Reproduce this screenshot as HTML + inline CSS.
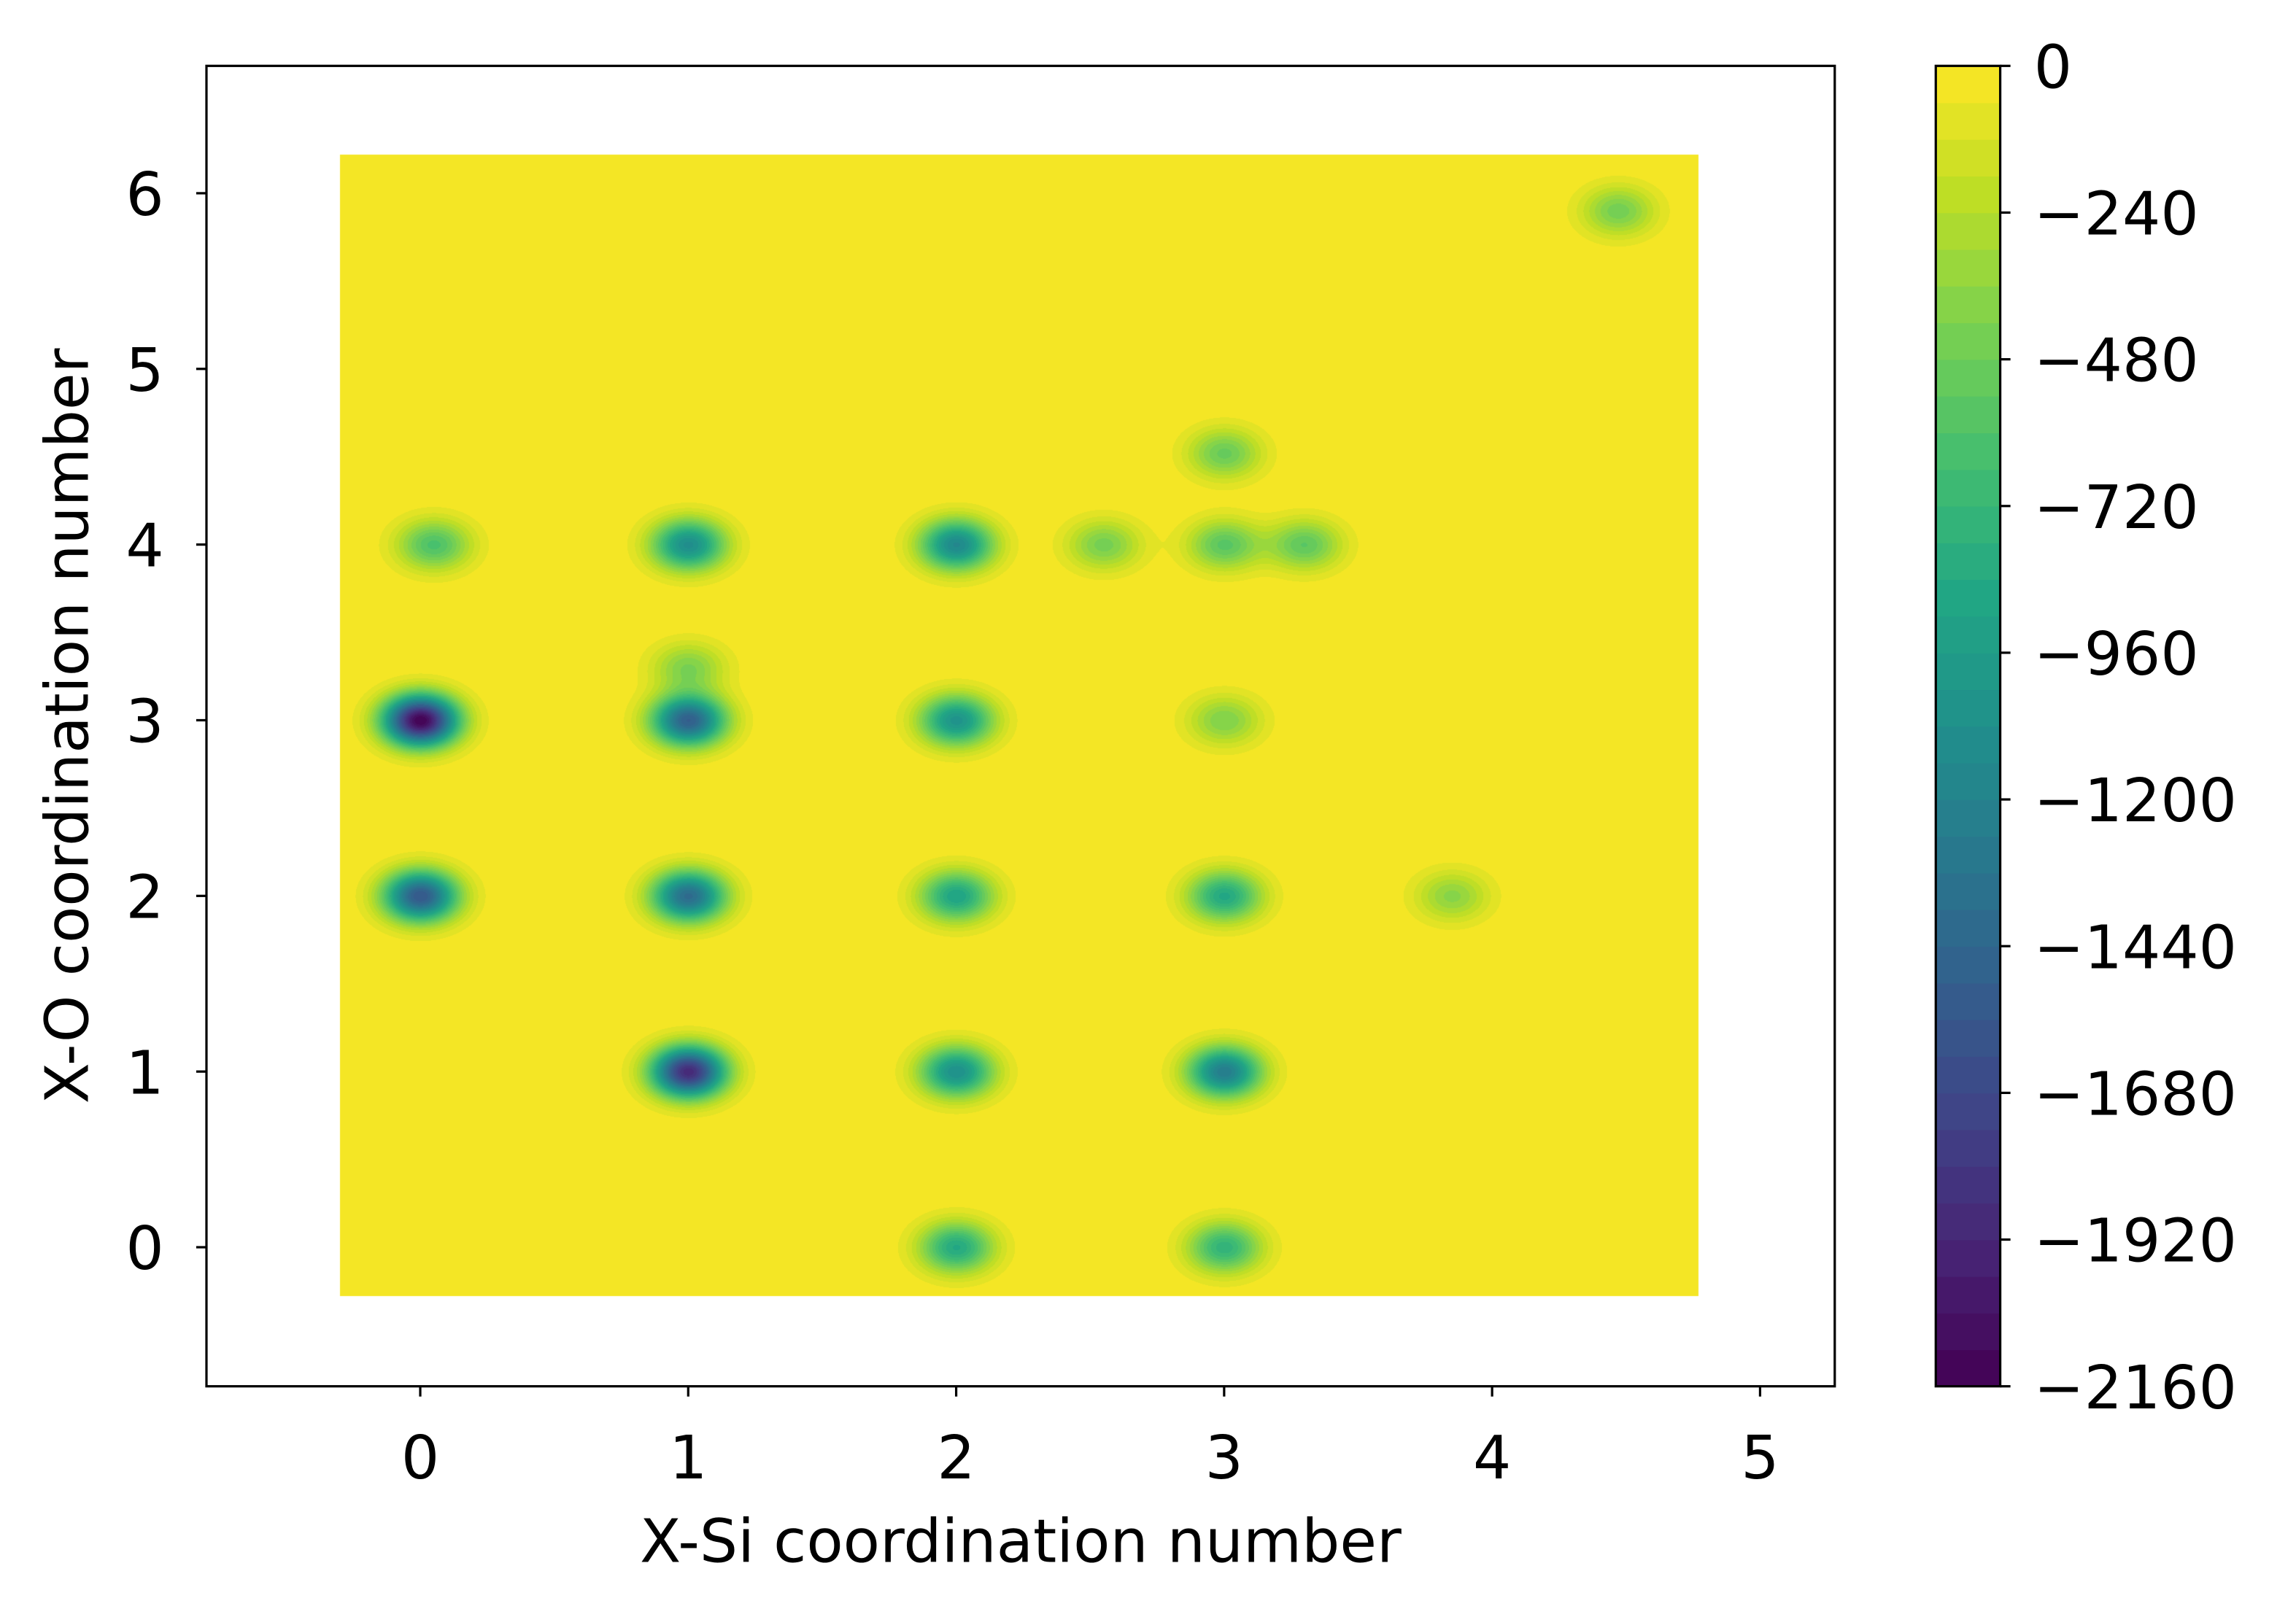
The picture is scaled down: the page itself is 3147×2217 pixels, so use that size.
<!DOCTYPE html>
<html><head><meta charset="utf-8"><style>
html,body{margin:0;padding:0;background:#fff;}
#wrap{position:relative;width:3147px;height:2217px;overflow:hidden;}
svg,canvas{position:absolute;left:0;top:0;}
text{font-family:"DejaVu Sans","Liberation Sans",sans-serif;fill:#000;}
</style></head><body>
<div id="wrap">
<canvas id="cv" width="3147" height="2217"></canvas>
<svg id="sv" width="3147" height="2217" viewBox="0 0 1568 1104.6" preserveAspectRatio="none"></svg>
</div>
<script>
// ---- data ----
const blobX = [0, 0, 0.05, 1, 1, 1, 1, 1, 2, 2, 2, 2, 2, 2.55, 3, 3, 3.3, 3, 3, 3, 3, 3.85, 4.47];
const blobY = [3, 2, 4, 4, 3, 3.3, 2, 1, 4, 3, 2, 1, 0, 4, 4.52, 4, 4, 3, 2, 1, 0, 2, 5.9];
const blobDepth = [2160, 1560, 620, 1100, 1500, 420, 1400, 1900, 1150, 1050, 900, 1080, 850, 450, 500, 560, 540, 420, 860, 1250, 760, 380, 460];
const xTicks = [0, 1, 2, 3, 4, 5];
const yTicks = [0, 1, 2, 3, 4, 5, 6];
const cbTicks = [0, -240, -480, -720, -960, -1200, -1440, -1680, -1920, -2160];
const levelStep = 60, zMin = -2160, zMax = 0;
const gridX = [-0.3, 4.77], gridY = [-0.28, 6.22];

// ---- scales (viewBox units) ----
const S = 3147 / 1568;
const xs = v => 287 + 183 * v;
const ys = v => 852 - 120 * v;
const cbY = v => 45 + (zMax - v) / (zMax - zMin) * 902;

const VIR = [[68,1,84],[72,35,116],[64,67,135],[52,94,141],[41,120,142],[32,144,140],[34,167,132],[68,190,112],[121,209,81],[189,222,38],[253,231,37]];
function viridis(t){t=Math.max(0,Math.min(1,t));const f=t*(VIR.length-1),i=Math.min(VIR.length-2,Math.floor(f)),r=f-i;
 const a=VIR[i],b=VIR[i+1];return [a[0]+(b[0]-a[0])*r,a[1]+(b[1]-a[1])*r,a[2]+(b[2]-a[2])*r];}
const nLev = Math.round((zMax - zMin) / levelStep);
function bandColor(i){return viridis((i+0.5)/nLev);}

// ---- contour fill ----
const cv = document.getElementById('cv'), ctx = cv.getContext('2d');
const px0 = Math.round(xs(gridX[0])*S), px1 = Math.round(xs(gridX[1])*S);
const py0 = Math.round(ys(gridY[1])*S), py1 = Math.round(ys(gridY[0])*S);
const W = px1-px0, H = py1-py0;
const img = ctx.createImageData(W, H);
const sx = 0.095, sy = 0.1;
for (let j=0;j<H;j++){
  const dy = (852 - (py0+j)/S)/120;
  for (let i=0;i<W;i++){
    const dx = ((px0+i)/S - 287)/183;
    let z = 0;
    for (let k=0;k<blobX.length;k++){
      const ax=(dx-blobX[k])/sx, ay=(dy-blobY[k])/sy;
      const e=ax*ax+ay*ay; if(e<40) z -= blobDepth[k]*Math.exp(-0.5*e);
    }
    let b = Math.floor((z - zMin)/levelStep); if(b<0)b=0; if(b>nLev-1)b=nLev-1;
    const c = bandColor(b), o=(j*W+i)*4;
    img.data[o]=c[0];img.data[o+1]=c[1];img.data[o+2]=c[2];img.data[o+3]=255;
  }
}
ctx.putImageData(img, px0, py0);

// ---- axes ----
const FS = 41;
const sv = document.getElementById('sv'), NS='http://www.w3.org/2000/svg';
function mk(tag, attrs, parent){const e=document.createElementNS(NS,tag);for(const k in attrs)e.setAttribute(k,attrs[k]);(parent||sv).appendChild(e);return e;}
const frame = mk('rect',{x:141,y:45,width:1112,height:902,fill:'none',stroke:'#000','stroke-width':1.6});


xTicks.forEach(v=>{
  const l=mk('line',{x1:xs(v),x2:xs(v),y1:947,y2:954,stroke:'#000','stroke-width':1.6});
  
  
  const t=mk('text',{x:xs(v),y:1010,'text-anchor':'middle','font-size':FS});
  t.textContent=v;
  
  
});
yTicks.forEach(v=>{
  const l=mk('line',{x1:134,x2:141,y1:ys(v),y2:ys(v),stroke:'#000','stroke-width':1.6});
  
  
  const t=mk('text',{x:112,y:ys(v)+15,'text-anchor':'end','font-size':FS});
  t.textContent=v;
  
  
});
const xt=mk('text',{x:697,y:1067,'text-anchor':'middle','font-size':FS});
xt.textContent='X-Si coordination number';


const yt=mk('text',{x:0,y:0,'text-anchor':'middle','font-size':FS,transform:'translate(60,496) rotate(-90)'});
yt.textContent='X-O coordination number';



// ---- colorbar ----
const cbG = mk('g',{});


for(let b=0;b<nLev;b++){
  const lo=zMin+b*levelStep, hi=lo+levelStep, c=bandColor(b);
  const r=mk('rect',{x:1322,y:cbY(hi),width:44,height:cbY(lo)-cbY(hi)+0.4,fill:`rgb(${c[0]|0},${c[1]|0},${c[2]|0})`},cbG);
  
  
}
const cbf=mk('rect',{x:1322,y:45,width:44,height:902,fill:'none',stroke:'#000','stroke-width':1.6});


cbTicks.forEach(v=>{
  const l=mk('line',{x1:1366,x2:1373,y1:cbY(v),y2:cbY(v),stroke:'#000','stroke-width':1.6});
  
  
  const t=mk('text',{x:1389,y:cbY(v)+15,'font-size':FS});
  t.textContent=(v<0?'\u2212'+(-v):String(v));
  
  
});
</script>
</body></html>
